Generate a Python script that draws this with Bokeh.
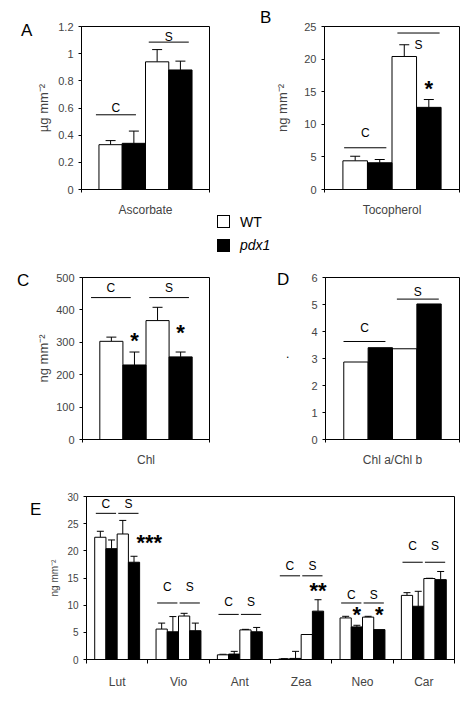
from bokeh.plotting import figure
from bokeh.layouts import column, row
from bokeh.models import ColumnDataSource, FixedTicker, Whisker, TeeHead, Range1d, Div
from bokeh.core.properties import value
from bokeh.embed import file_html
from bokeh.resources import INLINE

FONT = "Liberation Sans"

groups = ["C", "S"]
genotypes = ["WT", "pdx1"]

# A: ascorbate (ug mm-2)
asc_wt = [0.33, 0.94]
asc_wt_err = [0.03, 0.09]
asc_pdx = [0.34, 0.88]
asc_pdx_err = [0.09, 0.065]
asc_brackets = [0.55, 1.085]
asc_bracket_labels = [0.602, 1.122]
asc_bracket_x = [1.23, 3.5]
asc_stars = []

# B: tocopherol (ng mm-2)
toc_wt = [4.4, 20.4]
toc_wt_err = [0.7, 1.8]
toc_pdx = [4.1, 12.6]
toc_pdx_err = [0.5, 1.2]
toc_brackets = [6.4, 24.0]
toc_bracket_labels = [8.67, 22.2]
toc_bracket_x = [1.41, 3.58]
toc_stars = [(1, "*", 15.8)]

# C: chlorophyll (ng mm-2)
chl_wt = [303, 367]
chl_wt_err = [13, 41]
chl_pdx = [230, 255]
chl_pdx_err = [40, 15]
chl_brackets = [438, 438]
chl_bracket_labels = [467, 467]
chl_bracket_x = [0.98, 3.5]
chl_stars = [(0, "*", 313), (1, "*", 336)]

# D: chl a / chl b
ratio_wt = [2.87, 3.36]
ratio_pdx = [3.40, 5.02]
ratio_brackets = [3.63, 5.2]
ratio_bracket_labels = [4.12, 5.47]
ratio_bracket_x = [1.35, 3.54]

# E: pigments (ng mm-2)
pigments = ["Lut", "Vio", "Ant", "Zea", "Neo", "Car"]
wt_c = [22.5, 5.6, 0.86, 0.1, 7.65, 11.8]
wt_c_err = [1.1, 1.1, 0.1, 0.05, 0.3, 0.5]
pdx_c = [20.4, 5.1, 1.0, 0.2, 6.0, 9.8]
pdx_c_err = [1.6, 2.8, 0.5, 1.3, 0.3, 2.75]
wt_s = [23.1, 8.0, 5.45, 4.6, 7.8, 14.9]
wt_s_err = [2.5, 0.5, 0.1, 0.0, 0.15, 0.05]
pdx_s = [17.9, 5.3, 5.1, 8.9, 5.5, 14.7]
pdx_s_err = [1.1, 1.4, 0.8, 2.1, 0.0, 1.5]
pig_brackets = [26.9, 10.4, 8.3, 15.4, 10.4, 17.9]
pig_bracket_labels = [28.6, 13.35, 10.5, 17.2, 11.95, 20.8]
# (pigment, series, text, height)
pig_stars = [(0, "pdx_s", "***", 21.9), (3, "pdx_s", "**", 13.0),
             (4, "pdx_c", "*", 8.6), (4, "pdx_s", "*", 8.6)]


def span(text, left, top, size, extra=""):
    return ('<span style="position:absolute;left:%dpx;top:%.1fpx;font-family:\'%s\';'
            'font-size:%dpx;line-height:1;white-space:nowrap;color:black;%s">%s</span>'
            % (left, top, FONT, size, extra, text))


def swatch(left, top, fill):
    return ('<span style="position:absolute;left:%dpx;top:%dpx;width:13px;height:13px;'
            'box-sizing:border-box;border:1px solid black;background:%s"></span>'
            % (left, top, fill))


def text_strip(width, height, parts):
    html = ('<div style="position:relative;width:%dpx;height:%dpx;overflow:visible">%s</div>'
            % (width, height, "".join(parts)))
    return Div(text=html, width=width, height=height, margin=0)


def base_fig(width, height, left, right, top, bottom, xr, y_end, y_ticks, tick_size):
    p = figure(width=width, height=height, x_range=Range1d(*xr), y_range=Range1d(0, y_end),
               output_backend="svg", toolbar_location=None,
               min_border_left=left, min_border_right=right,
               min_border_top=top, min_border_bottom=bottom)
    p.grid.visible = False
    p.outline_line_color = "black"
    p.outline_line_alpha = 1
    ya = p.yaxis[0]
    ya.ticker = FixedTicker(ticks=y_ticks)
    ya.major_tick_out = 3
    ya.major_tick_in = 0
    ya.minor_tick_line_color = None
    ya.major_label_standoff = 5
    ya.major_label_text_font = FONT
    ya.major_label_text_font_size = tick_size
    ya.axis_label_text_font = FONT
    ya.axis_label_text_font_style = "normal"
    xa = p.xaxis[0]
    xa.minor_tick_line_color = None
    xa.axis_label_text_font = FONT
    xa.axis_label_text_font_style = "normal"
    xa.axis_label_text_font_size = "12px"
    return p


def small_panel(width, height, left, right, top, bottom, y_end, y_ticks, y_label, y_standoff,
                x_label, wt, wt_err, pdx, pdx_err, brackets, bracket_labels, bracket_x, stars):
    xr = (-0.25, 5.25)
    p = base_fig(width, height, left, right, top, bottom, xr, y_end, y_ticks, "11px")
    if y_label:
        p.yaxis.axis_label = y_label
        p.yaxis.axis_label_text_font_size = "13px"
        p.yaxis.axis_label_standoff = y_standoff
    xa = p.xaxis[0]
    # only the two end ticks, no labels
    xa.ticker = FixedTicker(ticks=[], minor_ticks=list(xr))
    xa.minor_tick_line_color = "black"
    xa.minor_tick_out = 3
    xa.minor_tick_in = 0
    xa.major_tick_out = 0
    xa.axis_label = x_label
    xa.axis_label_standoff = 10

    x_wt = [1 + 2 * g for g in range(len(groups))]
    x_pdx = [2 + 2 * g for g in range(len(groups))]
    p.vbar(x=x_wt, top=wt, width=1, fill_color="white", line_color="black")
    p.vbar(x=x_pdx, top=pdx, width=1, fill_color="black", line_color="black")

    if wt_err is not None:
        xs, lo, hi = [], [], []
        for xv, t, e in zip(x_wt + x_pdx, wt + pdx, wt_err + pdx_err):
            if e > 0:
                xs.append(xv); lo.append(t); hi.append(t + e)
        src = ColumnDataSource(dict(x=xs, lo=lo, hi=hi))
        p.add_layout(Whisker(source=src, base="x", lower="lo", upper="hi",
                             line_color="black", lower_head=None,
                             upper_head=TeeHead(size=10, line_color="black")))

    p.segment(x0=[c - 0.86 for c in bracket_x], y0=brackets,
              x1=[c + 0.86 for c in bracket_x], y1=brackets, line_color="black", line_width=1)
    p.text(x=bracket_x, y=bracket_labels, text=groups, text_font=value(FONT),
           text_font_size="12px", text_align="center", text_baseline="middle")

    if stars:
        p.text(x=[x_pdx[g] for g, _, _ in stars], y=[y for _, _, y in stars],
               text=[s for _, s, _ in stars], text_font=value(FONT), text_font_size="22px",
               text_font_style="bold", text_align="center", text_baseline="middle", y_offset=2)
    return p


# row 1: letter A | A | legend + letter B | B
sA = text_strip(33, 255, [span("A", 21, 21.6, 17)])
pA = small_panel(182, 255, 44, 6, 26, 66, 1.2, [0, 0.2, 0.4, 0.6, 0.8, 1.0, 1.2],
                 "µg mm⁻²", 4, "Ascorbate", asc_wt, asc_wt_err, asc_pdx, asc_pdx_err,
                 asc_brackets, asc_bracket_labels, asc_bracket_x, asc_stars)
pA.yaxis.major_label_overrides = {0: "0", 1: "1"}

sM = text_strip(57, 255, [
    span("B", 45, 8.6, 17),
    swatch(2, 215, "white"), span(genotypes[0], 25, 214.6, 14),
    swatch(2, 239, "black"), span(genotypes[1], 25, 238.1, 14, "font-style:italic"),
])
pB = small_panel(202, 255, 48, 15, 26, 66, 25, [0, 5, 10, 15, 20, 25],
                 "ng mm⁻²", 11, "Tocopherol", toc_wt, toc_wt_err, toc_pdx, toc_pdx_err,
                 toc_brackets, toc_bracket_labels, toc_bracket_x, toc_stars)

# row 2: letter C | C | letter D | D
sC = text_strip(33, 220, [span("C", 17, 16.6, 17)])
pC = small_panel(182, 220, 44, 6, 22, 36, 500, [0, 100, 200, 300, 400, 500],
                 "ng mm⁻²", 2, "Chl", chl_wt, chl_wt_err, chl_pdx, chl_pdx_err,
                 chl_brackets, chl_bracket_labels, chl_bracket_x, chl_stars)

sD = text_strip(75, 220, [span("D", 62, 15.6, 17), span(".", 71, 92.8, 12)])
pD = small_panel(184, 220, 35, 15, 22, 36, 6, [0, 1, 2, 3, 4, 5, 6],
                 None, 0, "Chl a/Chl b", ratio_wt, None, ratio_pdx, None,
                 ratio_brackets, ratio_bracket_labels, ratio_bracket_x, [])

# row 3: letter E | E
sE = text_strip(46, 237, [span("E", 30, 25.6, 17)])

n = len(pigments)
pE = base_fig(428, 237, 38, 20, 21, 53, (0, n), 30, [0, 5, 10, 15, 20, 25, 30], "10px")
pE.yaxis.axis_label = "ng mm⁻²"
pE.yaxis.axis_label_text_font_size = "10px"
pE.yaxis.axis_label_standoff = 4
xa = pE.xaxis[0]
centers = [i + 0.5 for i in range(n)]
xa.ticker = FixedTicker(ticks=centers, minor_ticks=list(range(n + 1)))
xa.major_label_overrides = {c: name for c, name in zip(centers, pigments)}
xa.major_label_text_font = FONT
xa.major_label_text_font_size = "12px"
xa.major_tick_out = 0
xa.major_tick_in = 0
xa.minor_tick_line_color = "black"
xa.minor_tick_out = 4
xa.minor_tick_in = 0
xa.major_label_standoff = 11

bw = 0.183
series = {
    "wt_c": (wt_c, wt_c_err, "white", -1.5),
    "pdx_c": (pdx_c, pdx_c_err, "black", -0.5),
    "wt_s": (wt_s, wt_s_err, "white", 0.5),
    "pdx_s": (pdx_s, pdx_s_err, "black", 1.5),
}
xpos = {}
for key, (vals, errs, col, k) in series.items():
    xs = [c + k * bw for c in centers]
    xpos[key] = xs
    pE.vbar(x=xs, top=vals, width=bw, fill_color=col, line_color="black")
    keep = [(x, v, v + e) for x, v, e in zip(xs, vals, errs) if e > 0]
    src = ColumnDataSource(dict(x=[a for a, _, _ in keep], lo=[b for _, b, _ in keep],
                                hi=[c for _, _, c in keep]))
    pE.add_layout(Whisker(source=src, base="x", lower="lo", upper="hi", line_color="black",
                          lower_head=None, upper_head=TeeHead(size=7, line_color="black")))

bc = [c - bw for c in centers] + [c + bw for c in centers]
by = pig_brackets + pig_brackets
pE.segment(x0=[c - 0.165 for c in bc], y0=by, x1=[c + 0.165 for c in bc], y1=by,
           line_color="black")
pE.text(x=bc, y=pig_bracket_labels + pig_bracket_labels, text=["C"] * n + ["S"] * n,
        text_font=value(FONT), text_font_size="12px", text_align="center",
        text_baseline="middle")

star_x = []
for i, key, s, y in pig_stars:
    x = xpos[key][i]
    if len(s) == 3:
        x += 0.25
    star_x.append(x)
pE.text(x=star_x, y=[y for _, _, _, y in pig_stars], text=[s for _, _, s, _ in pig_stars],
        text_font=value(FONT), text_font_size="22px", text_font_style="bold",
        text_align="center", text_baseline="middle", y_offset=2)

layout = column(row(sA, pA, sM, pB), row(sC, pC, sD, pD), row(sE, pE))
open("out.html", "w").write(file_html(layout, INLINE))
